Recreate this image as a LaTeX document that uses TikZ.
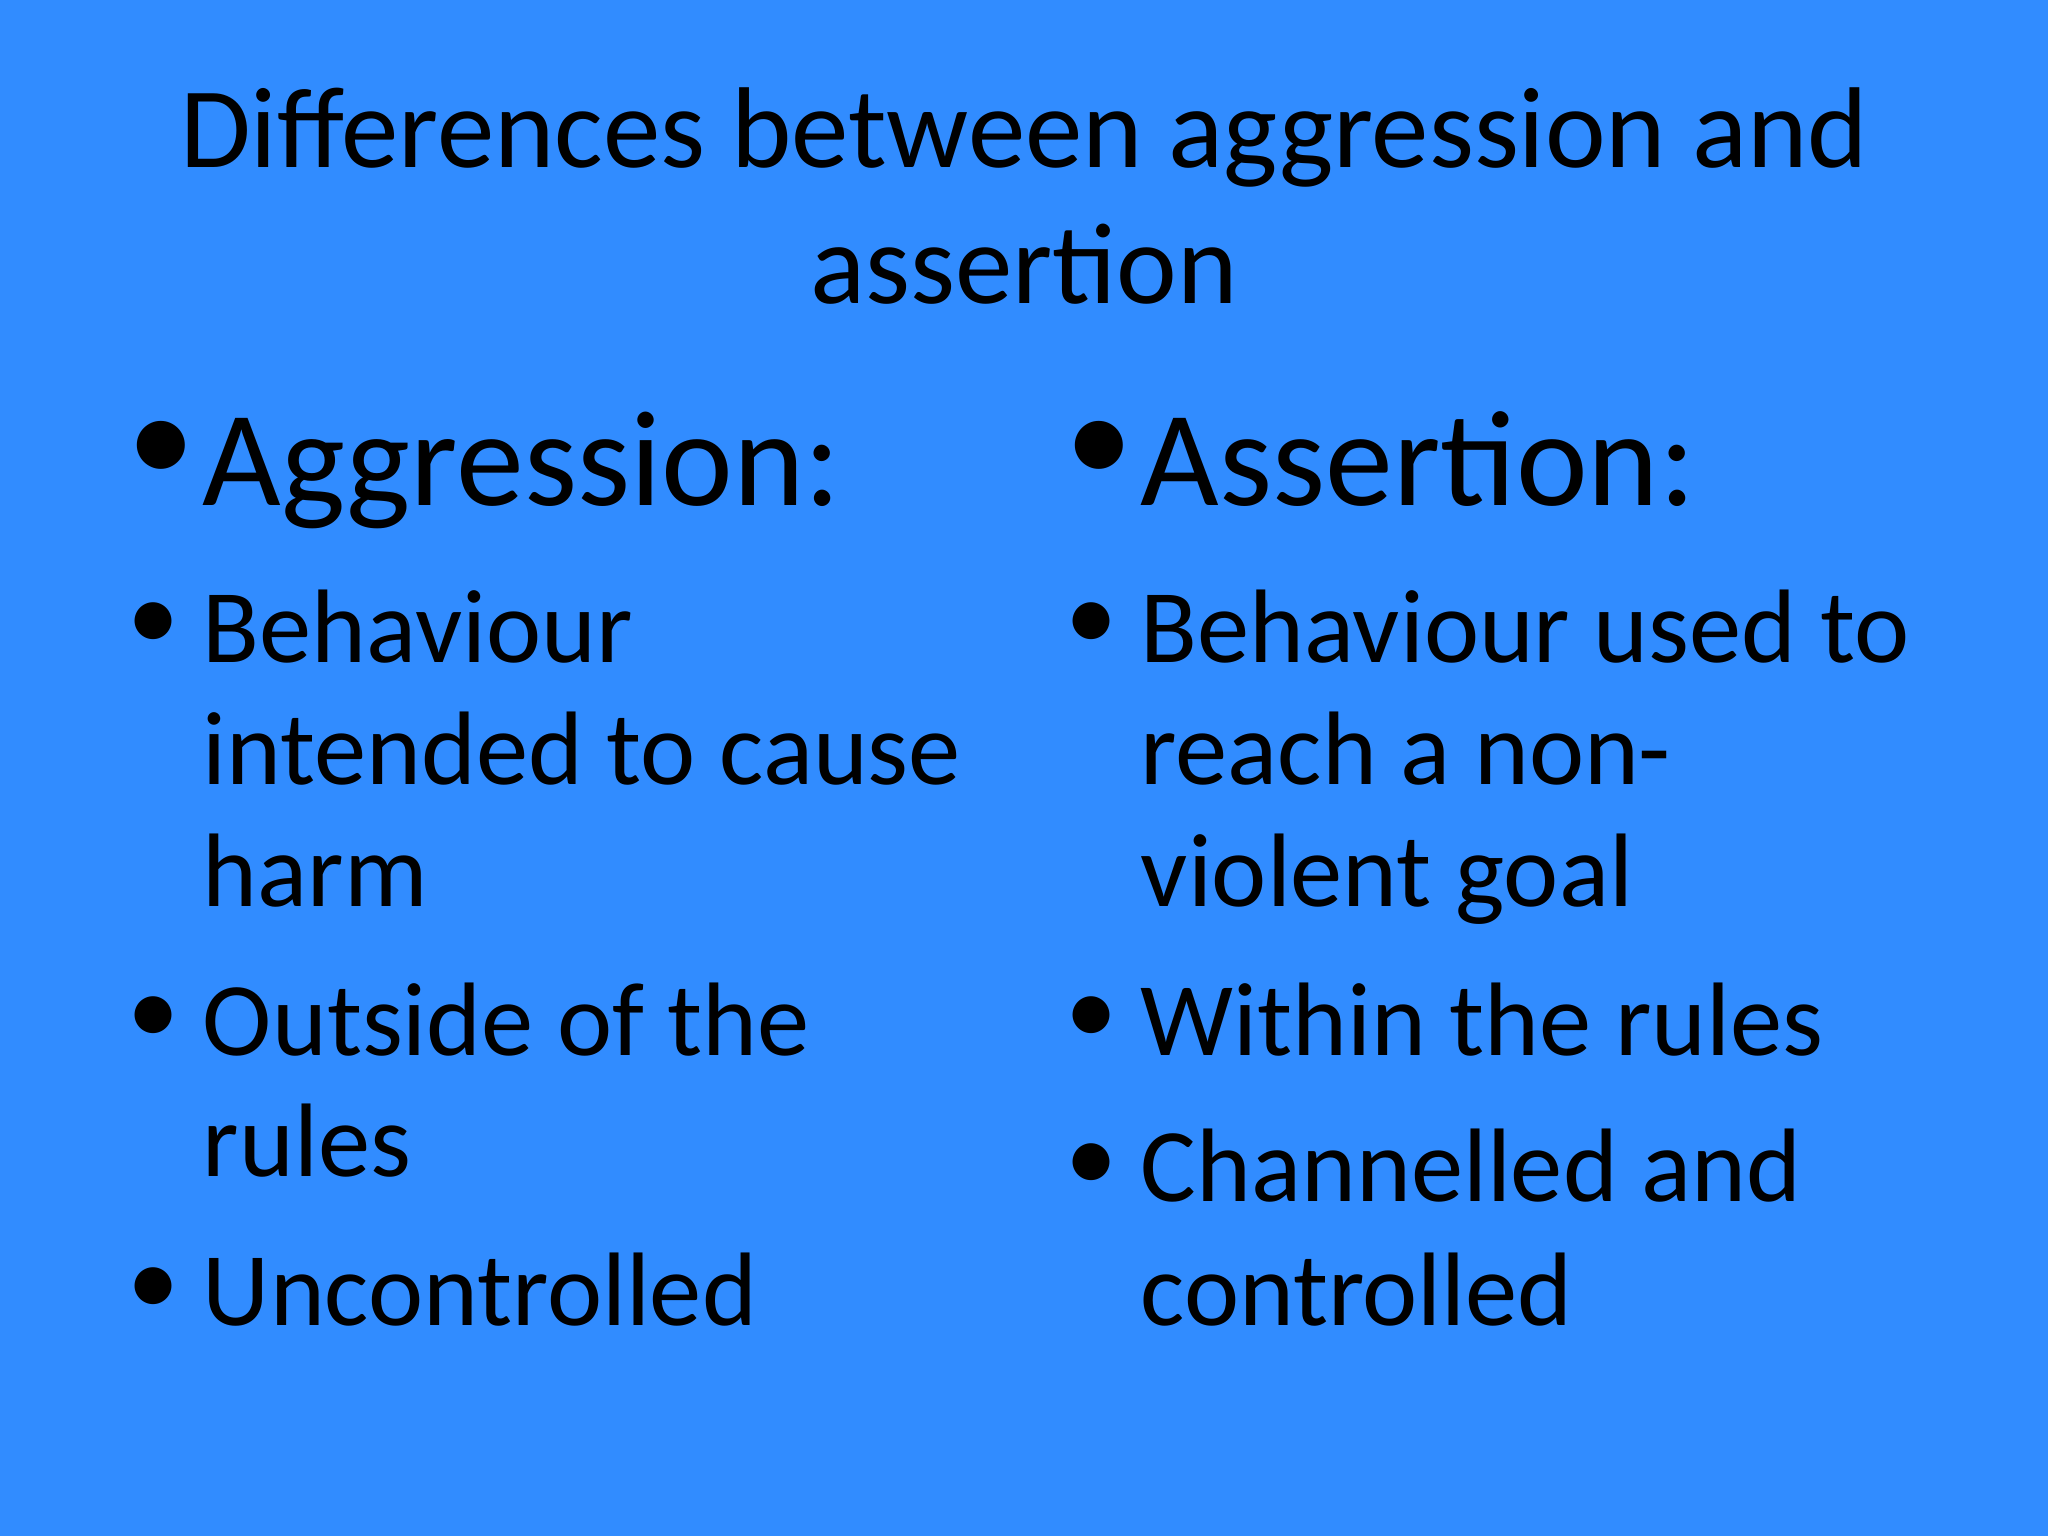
\documentclass[tikz,border=0pt]{standalone}
\usepackage{fontspec}
\setmainfont{Carlito}
\definecolor{bg}{HTML}{318CFF}
\begin{document}
\begin{tikzpicture}[x=0.5pt,y=-0.5pt,
  ttl/.style={font=\fontsize{44}{50}\selectfont,anchor=base,inner sep=0},
  head/.style={font=\fontsize{52}{60}\selectfont,anchor=base west,inner sep=0},
  itm/.style={font=\fontsize{40}{46}\selectfont,anchor=base west,inner sep=0},
  hb/.style={font=\fontsize{52}{60}\selectfont,anchor=base west,inner sep=0},
  ib/.style={font=\fontsize{40}{46}\selectfont,anchor=base west,inner sep=0}]
\fill[bg] (0,0) rectangle (1568,1176);
\useasboundingbox (0,0) rectangle (1568,1176);
\node[ttl] (t1) at (784,128) {Differences between aggression and};
\node[ttl] (t2) at (784,232) {assertion};
\node[hb] (hb1) at (97,370) {•};
\node[head] (h1) at (155,387) {Aggression:};
\node[hb] (hb2) at (815,370) {•};
\node[head] (h2) at (873,387) {Assertion:};
\foreach \n/\y in {a/498,b/800,c/1007}{\node[ib] (lb\n) at (97,\y) {•};}
\node[itm] (l1) at (155,507) {Behaviour};
\node[itm] (l2) at (155,601) {intended to cause};
\node[itm] (l3) at (155,694) {harm};
\node[itm] (l4) at (155,808) {Outside of the};
\node[itm] (l5) at (155,901) {rules};
\node[itm] (l6) at (155,1015) {Uncontrolled};
\foreach \n/\y in {a/498,b/800,c/912}{\node[ib] (rb\n) at (815,\y) {•};}
\node[itm] (r1) at (873,507) {Behaviour used to};
\node[itm] (r2) at (873,601) {reach a non-};
\node[itm] (r3) at (873,694) {violent goal};
\node[itm] (r4) at (873,808) {Within the rules};
\node[itm] (r5) at (873,920) {Channelled and};
\node[itm] (r6) at (873,1015) {controlled};
\end{tikzpicture}
\end{document}
